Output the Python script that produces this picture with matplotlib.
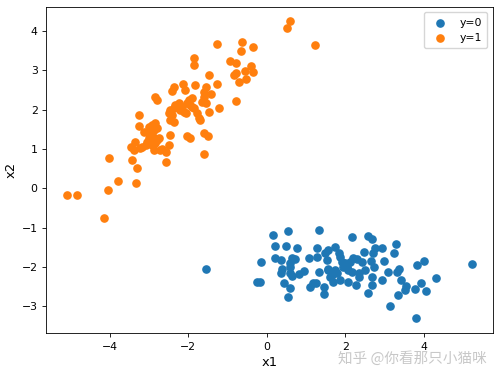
import matplotlib
matplotlib.use("Agg")
import matplotlib.pyplot as plt

# class y=0 (blue)
x0_1 = [-1.54, -0.14, -0.25, -0.18, 0.17, 0.53, 1.32, 0.22, 0.50, 0.78,
        0.22, 0.37, 0.65, 0.73, 0.60, 0.58, 0.39, 0.36, 0.58, 0.64,
        0.81, 0.95, 0.45, 0.60, 0.53, 1.08, 1.28, 1.29, 1.49, 1.55,
        1.74, 1.32, 1.53, 1.57, 1.55, 1.66, 1.70, 1.79, 1.11, 1.19,
        1.26, 1.45, 1.47, 2.17, 2.59, 2.68, 3.29, 3.25, 2.93, 2.76,
        2.72, 2.49, 1.83, 1.87, 2.21, 2.30, 2.12, 2.00, 1.91, 1.95,
        2.04, 2.08, 2.17, 2.44, 2.66, 2.74, 2.99, 2.51, 2.34, 2.34,
        1.62, 1.87, 2.08, 2.28, 2.68, 2.69, 2.95, 3.10, 3.31, 3.37,
        3.42, 2.59, 3.55, 3.52, 3.35, 3.84, 4.01, 4.31, 3.93, 4.06,
        3.78, 3.14, 3.80, 5.24, 1.74]
x0_2 = [-2.04, -1.88, -2.39, -2.39, -1.19, -1.09, -1.06, -1.47, -1.47, -1.53,
        -1.77, -1.82, -1.78, -1.81, -1.91, -1.99, -2.06, -2.16, -2.15, -2.23,
        -2.19, -2.10, -2.42, -2.54, -2.77, -1.76, -1.74, -1.53, -1.65, -1.57,
        -1.49, -2.12, -1.82, -2.04, -2.08, -2.21, -2.38, -2.16, -2.50, -2.42,
        -2.40, -2.52, -2.69, -1.25, -1.21, -1.30, -1.42, -1.65, -1.53, -1.53,
        -1.65, -1.63, -1.65, -1.74, -1.78, -1.81, -1.87, -1.91, -1.87, -1.99,
        -1.99, -2.08, -2.12, -1.88, -1.84, -1.99, -1.84, -2.08, -2.16, -2.25,
        -2.25, -2.32, -2.39, -2.46, -2.25, -2.46, -2.32, -2.14, -2.12, -2.06,
        -2.32, -2.66, -2.49, -2.59, -2.72, -1.95, -1.85, -2.29, -2.40, -2.61,
        -2.56, -3.00, -3.29, -1.93, -2.08]

# class y=1 (orange)
x1_1 = [0.58, 0.52, 1.24, -1.28, -0.62, -0.65, -0.34, -1.86, -1.86, -0.93,
        -0.79, -0.39, -0.36, -0.56, -0.78, -0.83, -0.54, -0.72, -1.46, -1.27,
        -1.84, -2.14, -2.37, -2.41, -2.09, -1.54, -1.61, -1.41, -2.86, -2.79,
        -0.78, -1.23, -1.46, -1.61, -1.65, -1.56, -1.90, -1.99, -2.03, -1.95,
        -2.24, -2.33, -2.37, -2.46, -2.50, -2.41, -2.46, -2.37, -2.16, -2.20,
        -2.12, -1.90, -1.86, -1.78, -1.74, -1.69, -2.06, -3.26, -3.26, -3.13,
        -3.01, -2.92, -2.84, -2.88, -2.79, -2.96, -2.92, -3.01, -3.05, -3.09,
        -3.18, -3.22, -3.35, -3.47, -3.39, -2.88, -2.79, -2.84, -2.92, -2.75,
        -2.46, -2.50, -2.03, -1.95, -1.61, -1.51, -2.88, -2.71, -2.58, -2.67,
        -1.61, -3.43, -2.56, -3.30, -4.03, -3.80, -4.05, -3.34, -5.09, -4.84,
        -4.15]
x1_2 = [4.26, 4.07, 3.65, 3.67, 3.72, 3.49, 3.59, 3.31, 3.14, 3.24,
        3.18, 3.11, 2.96, 2.98, 2.94, 2.87, 2.78, 2.70, 2.88, 2.65,
        2.63, 2.66, 2.59, 2.48, 2.50, 2.57, 2.46, 2.39, 2.33, 2.25,
        2.22, 2.04, 1.95, 2.33, 2.20, 2.16, 2.29, 2.25, 2.16, 2.12,
        2.16, 2.12, 2.04, 1.99, 1.91, 1.87, 1.74, 1.69, 2.08, 1.99,
        1.95, 2.08, 2.04, 1.91, 1.78, 1.74, 1.91, 1.87, 1.59, 1.44,
        1.57, 1.61, 1.65, 1.48, 1.53, 1.44, 1.36, 1.27, 1.19, 1.10,
        1.06, 1.02, 1.19, 1.06, 0.97, 1.27, 1.23, 1.15, 1.10, 1.27,
        1.36, 1.10, 1.33, 1.27, 1.41, 1.33, 0.97, 0.97, 0.93, 0.99,
        0.87, 0.72, 0.68, 0.51, 0.76, 0.19, -0.04, 0.13, -0.18, -0.18,
        -0.76]

labels = ["y=0", "y=1"]
watermark = "知乎 @你看那只小猫咪"

fig = plt.figure(figsize=(4.99, 3.74), dpi=100)
ax = fig.add_axes([0.0928, 0.1096, 0.8946, 0.8725])
ax.scatter(x0_1, x0_2, s=27, color="#1f77b4", label=labels[0])
ax.scatter(x1_1, x1_2, s=27, color="#ff7f0e", label=labels[1])
ax.set_xlim(-5.62, 5.76)
ax.set_ylim(-3.68, 4.62)
ax.set_xticks([-4, -2, 0, 2, 4])
ax.set_yticks([-3, -2, -1, 0, 1, 2, 3, 4])
ax.tick_params(labelsize=7.8, length=2.7, width=0.6)
for sp in ax.spines.values():
    sp.set_linewidth(0.6)
ax.set_xlabel("x1", fontsize=9.4, labelpad=3)
ax.set_ylabel("x2", fontsize=9.4, labelpad=3)
ax.legend(loc="upper right", fontsize=7.8, handletextpad=0.8, borderpad=0.5)
fig.text(0.827, 0.042, watermark, fontsize=10.5, color="#c8c8c8",
         family=["Noto Sans CJK SC", "DejaVu Sans"], ha="center", va="center")
fig.savefig("out.png", dpi=100)
